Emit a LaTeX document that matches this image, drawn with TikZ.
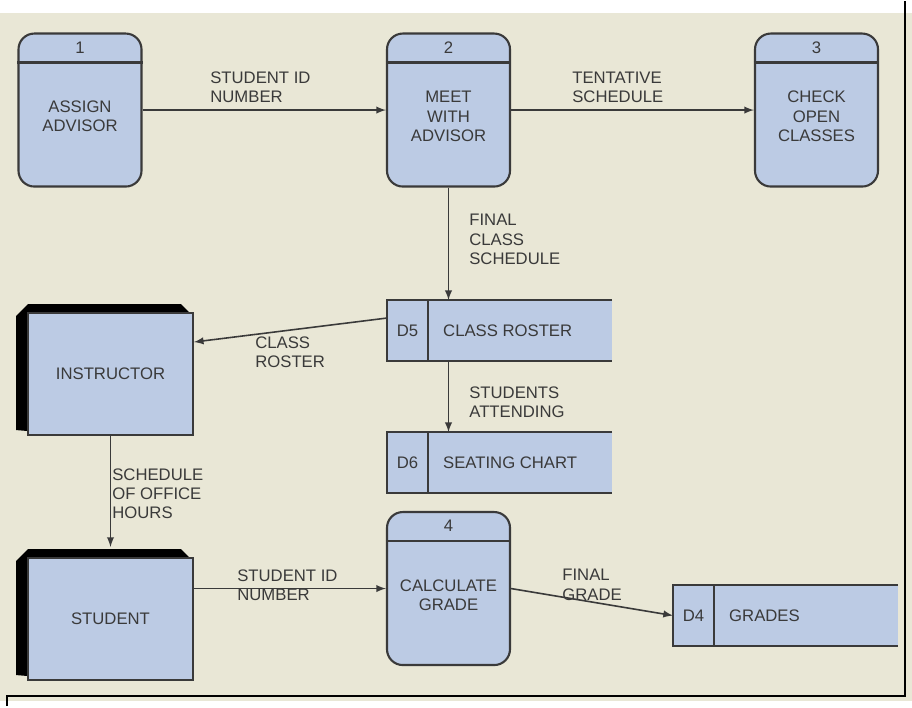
\documentclass[tikz,border=0pt]{standalone}
\usepackage{fontspec}
\setmainfont{Liberation Sans}
\usetikzlibrary{positioning,calc}
\definecolor{boxblue}{HTML}{BCCBE4}
\definecolor{paper}{HTML}{E9E7D6}
\definecolor{inkgrey}{HTML}{3A3A3A}
\tikzset{
  proc/.style={draw=inkgrey,line width=1.2pt,fill=boxblue,rounded corners=9pt,minimum width=2.46cm,minimum height=3.06cm,inner sep=0pt},
  ent/.style={draw=inkgrey,line width=1pt,fill=boxblue,minimum width=3.3cm,minimum height=2.44cm,inner sep=0pt},
  flow/.style={draw=inkgrey,line width=0.9pt,-latex},
  lbl/.style={align=left,font=\fontsize{9.5}{11}\selectfont,text=inkgrey,inner sep=0pt},
  txt/.style={align=center,font=\fontsize{9.5}{11}\selectfont,text=inkgrey}
}
\newcommand\storebox[4]{% name, left-top x, y, label
  \fill[boxblue] (#2,#3) rectangle ++(4.5,-1.22);
  \draw[inkgrey,line width=1pt] ($(#2,#3)+(4.5,0)$) -- (#2,#3) -- ++(0,-1.22) -- ++(4.5,0);
  \draw[inkgrey,line width=1pt] ($(#2,#3)+(0.82,0)$) -- ++(0,-1.22);
  \node[txt] at ($(#2,#3)+(0.41,-0.61)$) {#1};
  \node[txt,anchor=west] at ($(#2,#3)+(1.0,-0.61)$) {#4};
  \coordinate (#1) at ($(#2,#3)+(0,-0.61)$);
  \coordinate (#1-n) at ($(#2,#3)+(1.22,0)$);
  \coordinate (#1-s) at ($(#2,#3)+(1.22,-1.22)$);
}
\newcommand\procbox[5]{% name, center x, y, number, text
  \node[proc] (#1) at (#2,#3) {};
  \draw[inkgrey,line width=1.2pt] ($(#1.north west)+(0,-0.6)$) -- ($(#1.north east)+(0,-0.6)$);
  \node[txt] at ($(#1.north)+(0,-0.3)$) {#4};
  \node[txt] at ($(#1.center)+(0,-0.13)$) {#5};
}
\begin{document}
\begin{tikzpicture}
\fill[paper] (0,0) rectangle (18.24,13.76);
\draw[black,line width=1.2pt] (0.14,-0.1) -- (0.14,0.1) -- (18.1,0.1) -- (18.1,14);
\useasboundingbox (0,0) rectangle (18.24,13.76);

% processes
\procbox{p1}{1.6}{11.82}{1}{ASSIGN\\ADVISOR}
\procbox{p2}{8.97}{11.82}{2}{MEET\\WITH\\ADVISOR}
\procbox{p3}{16.33}{11.82}{3}{CHECK\\OPEN\\CLASSES}
\procbox{p4}{8.97}{2.25}{4}{CALCULATE\\GRADE}

% entities
\fill[black] (0.32,5.42) -- (0.32,7.7) -- (0.56,7.94) -- (3.62,7.94) -- (3.86,7.7) -- (0.56,7.7) -- (0.56,5.4) -- cycle;
\node[ent] (instr) at (2.21,6.54) {};
\node[txt] at (instr) {INSTRUCTOR};
\fill[black] (0.32,0.52) -- (0.32,2.8) -- (0.56,3.04) -- (3.62,3.04) -- (3.86,2.8) -- (0.56,2.8) -- (0.56,0.5) -- cycle;
\node[ent] (stud) at (2.21,1.64) {};
\node[txt] at (stud) {STUDENT};

% data stores
\storebox{D5}{7.74}{8.02}{CLASS ROSTER}
\storebox{D6}{7.74}{5.38}{SEATING CHART}
\storebox{D4}{13.46}{2.32}{GRADES}

% flows
\draw[flow] (p1) -- (p2);
\node[lbl,anchor=south west] at (4.2,11.96) {STUDENT ID\\NUMBER};
\draw[flow] (p2) -- (p3);
\node[lbl,anchor=south west] at (11.44,11.96) {TENTATIVE\\SCHEDULE};
\draw[flow] (p2.south) -- (p2.south |- D5-n);
\node[lbl,anchor=north west] at (9.38,9.74) {FINAL\\CLASS\\SCHEDULE};
\draw[flow] ($(D5)+(0,0.25)$) -- ($(instr.east)+(0,0.64)$);
\node[lbl,anchor=north west] at (5.1,7.3) {CLASS\\ROSTER};
\draw[flow] (p2.south |- D5-s) -- (p2.south |- D6-n);
\node[lbl,anchor=north west] at (9.38,6.3) {STUDENTS\\ATTENDING};
\draw[flow] (instr.south) -- ++(0,-2.22);
\node[lbl,anchor=north west] at (2.24,4.66) {SCHEDULE\\OF OFFICE\\HOURS};
\draw[flow] (stud.east |- p4.center) -- (p4.west);
\node[lbl,anchor=north west] at (4.74,2.64) {STUDENT ID\\NUMBER};
\draw[flow] (p4.east) -- (D4);
\node[lbl,anchor=north west] at (11.24,2.64) {FINAL\\GRADE};
\end{tikzpicture}
\end{document}
